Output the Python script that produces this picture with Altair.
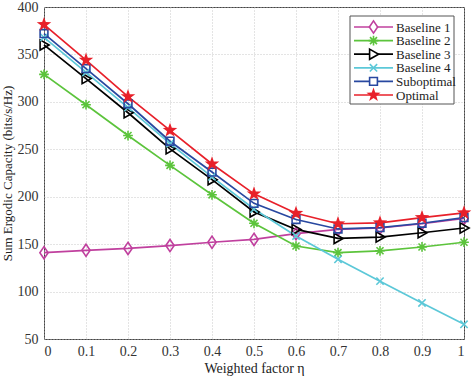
import altair as alt
import pandas as pd

eta = [0.0, 0.1, 0.2, 0.3, 0.4, 0.5, 0.6, 0.7, 0.8, 0.9, 1.0]
series_names = ["Baseline 1", "Baseline 2", "Baseline 3", "Baseline 4", "Suboptimal", "Optimal"]
baseline1 = [141, 143.5, 145.5, 148.5, 152, 155, 161, 165.5, 167, 171.5, 177]
baseline2 = [329, 297, 264.5, 233, 202, 172, 148, 141, 143, 147, 152]
baseline3 = [360, 324.5, 288.5, 250.5, 218, 184, 165.5, 156, 157.5, 162, 167]
baseline4 = [368, 331, 294, 256, 221, 187, 158.5, 134, 111, 88, 65.5]
suboptimal = [372, 335, 298, 258.5, 226, 193, 176, 166, 167.5, 172, 178]
optimal = [381.5, 344, 305.5, 270, 234.5, 203, 182.5, 171.5, 172.5, 178, 183]
x_ticks = [0, 0.1, 0.2, 0.3, 0.4, 0.5, 0.6, 0.7, 0.8, 0.9, 1]
y_ticks = [50, 100, 150, 200, 250, 300, 350, 400]

values = [baseline1, baseline2, baseline3, baseline4, suboptimal, optimal]
rows = []
for name, vals in zip(series_names, values):
    for e, v in zip(eta, vals):
        rows.append({"eta": e, "cap": v, "series": name})
df = pd.DataFrame(rows)
legend_df = pd.DataFrame({"series": series_names})

colors = ["#C0409E", "#5CC43C", "#000000", "#5CC8D8", "#2848A0", "#E8202A"]

# marker paths (unit size)
diamond = "M0,-1.25L0.85,0L0,1.25L-0.85,0Z"
asterisk = "M-1,0L1,0M0,-1L0,1M-0.72,-0.72L0.72,0.72M-0.72,0.72L0.72,-0.72"
tri_right = "M-0.8,-1.05L1.05,0L-0.8,1.05Z"
xcross = "M-0.75,-0.75L0.75,0.75M-0.75,0.75L0.75,-0.75"
square = "M-0.8,-0.8L0.8,-0.8L0.8,0.8L-0.8,0.8Z"

def star_path(scale=1.0):
    pts = [(0, -1.25), (0.294, -0.405), (1.189, -0.386), (0.475, 0.154), (0.735, 1.011),
           (0, 0.5), (-0.735, 1.011), (-0.475, 0.154), (-1.189, -0.386), (-0.294, -0.405)]
    return "M" + "L".join(f"{x*scale:.3f},{y*scale:.3f}" for x, y in pts) + "Z"

star = star_path()
marker_paths = [diamond, asterisk, tri_right, xcross, square, star]
marker_sizes = [95, 95, 95, 95, 95, 150]

font = "Liberation Serif"
color_scale = alt.Scale(domain=series_names, range=colors)

x_enc = alt.X("eta:Q", scale=alt.Scale(domain=[0, 1], nice=False),
              axis=alt.Axis(values=x_ticks, format="~g", title="Weighted factor η",
                            titleFontSize=14, titleFontWeight="normal",
                            titleY=33, titleBaseline="alphabetic",
                            labelFontSize=14, labelPadding=5, labelOverlap=False))
y_enc = alt.Y("cap:Q", scale=alt.Scale(domain=[50, 400], nice=False),
              axis=alt.Axis(values=y_ticks, title="Sum Ergodic Capacity (bits/s/Hz)",
                            titleFontSize=13, titleFontWeight="normal",
                            titleX=-37, titleBaseline="middle",
                            labelFontSize=14, labelPadding=6, labelOverlap=False))

base = alt.Chart(df)

lines = base.mark_line(strokeWidth=1.7).encode(
    x=x_enc, y=y_enc,
    color=alt.Color("series:N", scale=color_scale, legend=None),
)

main_layers = [lines]
for name, col, path, sz in zip(series_names, colors, marker_paths, marker_sizes):
    filled = name == "Optimal"
    mk = base.transform_filter(alt.datum.series == name).mark_point(
        shape=path, size=sz, strokeWidth=1.6, filled=filled, opacity=1, color=col,
    ).encode(x="eta:Q", y="cap:Q")
    main_layers.append(mk)
main = alt.layer(*main_layers)

# legend drawn as its own small layer
leg_base = alt.Chart(legend_df)
leg_y = alt.Y("series:N", scale=alt.Scale(type="point", domain=series_names, range=[20, 88], padding=0),
              axis=None)
leg_box = alt.Chart(pd.DataFrame({"k": [0]})).mark_rect(
    fill="white", stroke="#555555", strokeWidth=1
).encode(x=alt.value(306), x2=alt.value(410), y=alt.value(9), y2=alt.value(97))
leg_lines = leg_base.mark_rule(strokeWidth=1.7).encode(
    x=alt.value(310), x2=alt.value(349), y=leg_y,
    color=alt.Color("series:N", scale=color_scale, legend=None),
)
leg_marks_open = leg_base.transform_filter(alt.datum.series != "Optimal").mark_point(
    size=95, strokeWidth=1.6, filled=False, opacity=1, fill="white"
).encode(
    x=alt.value(329.5), y=leg_y,
    color=alt.Color("series:N", scale=color_scale, legend=None),
    shape=alt.Shape("series:N", scale=alt.Scale(domain=series_names, range=marker_paths), legend=None),
)
leg_marks_star = leg_base.transform_filter(alt.datum.series == "Optimal").mark_point(
    size=140, strokeWidth=1.6, filled=True, opacity=1, shape=star,
).encode(
    x=alt.value(329.5), y=leg_y,
    color=alt.Color("series:N", scale=color_scale, legend=None),
)
leg_text = leg_base.mark_text(
    align="left", baseline="middle", font=font, fontSize=13, color="#222222", dy=0.5
).encode(x=alt.value(352), y=leg_y, text="series:N")

legend = alt.layer(leg_box, leg_lines, leg_marks_open, leg_marks_star, leg_text)

chart = alt.layer(main, legend).resolve_scale(y="independent", shape="independent").properties(
    width=420, height=332,
    autosize=alt.AutoSizeParams(type="none"),
    padding={"left": 44, "top": 7, "right": 10, "bottom": 37},
    background="white",
).configure_view(
    stroke="#444444", strokeWidth=1
).configure_axis(
    labelFont=font, titleFont=font, labelColor="#333333", titleColor="#222222",
    grid=True, gridColor="#BBBBBB", gridDash=[1, 2], gridWidth=0.8,
    domain=False, ticks=False,
)

chart.save("out.html", embed_options={"renderer": "svg", "actions": False})
